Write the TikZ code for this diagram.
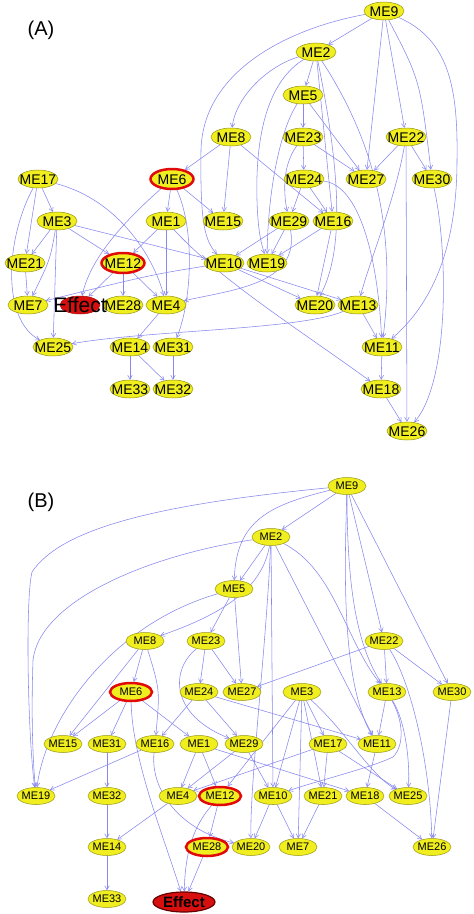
\documentclass[tikz,border=0pt]{standalone}
\usepackage{fontspec}
\setmainfont{Liberation Sans}
\usetikzlibrary{shapes.geometric,arrows.meta}
\definecolor{edgec}{RGB}{135,135,240}
\definecolor{nfill}{RGB}{240,238,30}
\definecolor{nborder}{RGB}{150,150,20}
\definecolor{hired}{RGB}{225,10,10}
\definecolor{effred}{RGB}{215,15,15}
\definecolor{effborder}{RGB}{100,0,0}
\newcommand\ntx[1]{\makebox[0pt]{\raisebox{-0.36em}{#1}}}
\pgfdeclarelayer{bg}
\pgfsetlayers{bg,main}
\begin{document}
\begin{tikzpicture}[x=1pt,y=-1pt,
  nA/.style={ellipse, draw=nborder, line width=0.5pt, fill=nfill, minimum width=40pt, minimum height=18pt, inner sep=0pt, text height=0pt, text depth=0pt, font=\fontsize{14}{15}\selectfont},
  hA/.style={nA, draw=hired, line width=2.5pt, minimum width=43pt, minimum height=20pt},
  effA/.style={ellipse, fill=effred, draw=effred!80!black, line width=0.5pt, minimum width=40pt, minimum height=18pt, inner sep=0pt, text height=0pt, text depth=0pt, font=\fontsize{21}{22}\selectfont},
  nB/.style={ellipse, draw=nborder, line width=0.5pt, fill=nfill, minimum width=38pt, minimum height=17pt, inner sep=0pt, text height=0pt, text depth=0pt, font=\fontsize{11}{12}\selectfont},
  hB/.style={nB, draw=hired, line width=2.5pt, minimum width=42pt, minimum height=18pt},
  effB/.style={ellipse, fill=effred, draw=effborder, line width=1.2pt, minimum width=62pt, minimum height=20pt, inner sep=0pt, text height=0pt, text depth=0pt, font=\bfseries\fontsize{15}{16}\selectfont},
  lbl/.style={font=\fontsize{20}{22}\selectfont, inner sep=0pt},
  conn/.style={draw=edgec, line width=0.55pt, -{Straight Barb[length=4pt,width=4.5pt]}}]
\useasboundingbox (0,0) rectangle (474,914);
\begin{pgfonlayer}{bg}
\fill[white] (0,0) rectangle (474,914);
\end{pgfonlayer}
% ---------------- Panel A ----------------
\node[lbl] (labA) at (41,30) {(A)};
\node[nA] (a9) at (384,11) {\ntx{ME9}};
\node[nA] (a2) at (316,52) {\ntx{ME2}};
\node[nA] (a5) at (303,95) {\ntx{ME5}};
\node[nA] (a8) at (231,137) {\ntx{ME8}};
\node[nA] (a23) at (303,137) {\ntx{ME23}};
\node[nA] (a22) at (406,137) {\ntx{ME22}};
\node[nA] (a17) at (38,179) {\ntx{ME17}};
\node[hA] (a6) at (172,179) {\ntx{ME6}};
\node[nA] (a24) at (304,179) {\ntx{ME24}};
\node[nA] (a27) at (366,179) {\ntx{ME27}};
\node[nA] (a30) at (432,179) {\ntx{ME30}};
\node[nA] (a3) at (57,221) {\ntx{ME3}};
\node[nA] (a1) at (166,221) {\ntx{ME1}};
\node[nA] (a15) at (223,221) {\ntx{ME15}};
\node[nA] (a29) at (289,221) {\ntx{ME29}};
\node[nA] (a16) at (333,221) {\ntx{ME16}};
\node[nA] (a21) at (25,263) {\ntx{ME21}};
\node[hA] (a12) at (123,263) {\ntx{ME12}};
\node[nA] (a10) at (224,263) {\ntx{ME10}};
\node[nA] (a19) at (267,263) {\ntx{ME19}};
\node[nA] (a7) at (28,305) {\ntx{ME7}};
\node[nA] (a28) at (123,305) {\ntx{ME28}};
\node[effA] (eA) at (80,305) {\ntx{Effect}};
\node[nA] (a4) at (166,305) {\ntx{ME4}};
\node[nA] (a20) at (315,305) {\ntx{ME20}};
\node[nA] (a13) at (358,305) {\ntx{ME13}};
\node[nA] (a25) at (53,347) {\ntx{ME25}};
\node[nA] (a14) at (130,347) {\ntx{ME14}};
\node[nA] (a31) at (173,347) {\ntx{ME31}};
\node[nA] (a11) at (382,347) {\ntx{ME11}};
\node[nA] (a33) at (130,389) {\ntx{ME33}};
\node[nA] (a32) at (173,389) {\ntx{ME32}};
\node[nA] (a18) at (381,389) {\ntx{ME18}};
\node[nA] (a26) at (407,431) {\ntx{ME26}};
\begin{pgfonlayer}{bg}
\draw[conn] (a9) -- (a2);
\draw[conn] (a9) -- (a27);
\draw[conn] (a9) -- (a22);
\draw[conn] (a9) .. controls (420,80) .. (a30);
\draw[conn] (a9) .. controls (450,40) and (458,90) .. (457,160) .. controls (457,260) and (425,310) .. (a11);
\draw[conn] (a9) .. controls (290,28) and (203,70) .. (201,150) .. controls (200,225) and (205,240) .. (a10);
\draw[conn] (a2) -- (a5);
\draw[conn] (a2) .. controls (270,65) and (236,95) .. (a8);
\draw[conn] (a2) -- (a16);
\draw[conn] (a2) .. controls (340,170) and (345,250) .. (a20);
\draw[conn] (a2) .. controls (380,150) and (395,240) .. (a11);
\draw[conn] (a2) .. controls (270,80) and (255,130) .. (257,200) .. controls (258,235) and (262,245) .. (a19);
\draw[conn] (a5) -- (a23);
\draw[conn] (a5) -- (a27);
\draw[conn] (a5) .. controls (280,130) and (268,190) .. (a19);
\draw[conn] (a23) -- (a24);
\draw[conn] (a23) -- (a27);
\draw[conn] (a23) .. controls (283,165) and (283,190) .. (a29);
\draw[conn] (a22) -- (a27);
\draw[conn] (a22) -- (a30);
\draw[conn] (a22) .. controls (395,200) and (370,260) .. (a13);
\draw[conn] (a22) -- (a26);
\draw[conn] (a30) .. controls (448,250) and (450,380) .. (a26);
\draw[conn] (a24) -- (a29);
\draw[conn] (a24) -- (a16);
\draw[conn] (a24) .. controls (360,185) and (378,260) .. (a11);
\draw[conn] (a8) -- (a6);
\draw[conn] (a8) -- (a15);
\draw[conn] (a8) -- (a16);
\draw[conn] (a6) -- (a1);
\draw[conn] (a6) -- (a15);
\draw[conn] (a6) .. controls (195,230) and (192,300) .. (a31);
\draw[conn] (a6) .. controls (120,225) and (90,260) .. (eA);
\draw[conn] (a17) -- (a3);
\draw[conn] (a17) -- (a21);
\draw[conn] (a17) .. controls (5,240) and (2,320) .. (a25);
\draw[conn] (a17) .. controls (120,200) and (155,260) .. (a4);
\draw[conn] (a3) -- (a21);
\draw[conn] (a3) .. controls (50,260) .. (a7);
\draw[conn] (a3) -- (a25);
\draw[conn] (a3) -- (a12);
\draw[conn] (a3) -- (a10);
\draw[conn] (a21) -- (a7);
\draw[conn] (a1) -- (a12);
\draw[conn] (a1) -- (a4);
\draw[conn] (a1) .. controls (220,280) and (300,330) .. (a18);
\draw[conn] (a12) -- (eA);
\draw[conn] (a12) -- (a28);
\draw[conn] (a12) -- (a4);
\draw[conn] (a29) -- (a10);
\draw[conn] (a29) -- (a19);
\draw[conn] (a29) .. controls (300,285) and (230,290) .. (a4);
\draw[conn] (a16) -- (a19);
\draw[conn] (a16) -- (a20);
\draw[conn] (a10) .. controls (150,275) .. (a7);
\draw[conn] (a10) -- (a20);
\draw[conn] (a10) -- (a13);
\draw[conn] (a13) -- (a11);
\draw[conn] (a13) .. controls (300,330) and (150,330) .. (a25);
\draw[conn] (a4) -- (a14);
\draw[conn] (a14) -- (a33);
\draw[conn] (a14) -- (a32);
\draw[conn] (a31) -- (a32);
\draw[conn] (a11) -- (a18);
\draw[conn] (a18) -- (a26);
\end{pgfonlayer}
% ---------------- Panel B ----------------
\node[lbl] (labB) at (41,502) {(B)};
\node[nB] (b9) at (347,486) {\ntx{ME9}};
\node[nB] (b2) at (271,537) {\ntx{ME2}};
\node[nB] (b5) at (234,589) {\ntx{ME5}};
\node[nB] (b8) at (145,641) {\ntx{ME8}};
\node[nB] (b23) at (206,641) {\ntx{ME23}};
\node[nB] (b22) at (384,641) {\ntx{ME22}};
\node[hB] (b6) at (131,692) {\ntx{ME6}};
\node[nB] (b24) at (199,692) {\ntx{ME24}};
\node[nB] (b27) at (242,692) {\ntx{ME27}};
\node[nB] (b3) at (302,692) {\ntx{ME3}};
\node[nB] (b13) at (387,692) {\ntx{ME13}};
\node[nB] (b30) at (452,692) {\ntx{ME30}};
\node[nB] (b15) at (63,744) {\ntx{ME15}};
\node[nB] (b31) at (107,744) {\ntx{ME31}};
\node[nB] (b16) at (155,744) {\ntx{ME16}};
\node[nB] (b1) at (199,744) {\ntx{ME1}};
\node[nB] (b29) at (244,744) {\ntx{ME29}};
\node[nB] (b17) at (328,744) {\ntx{ME17}};
\node[nB] (b11) at (377,744) {\ntx{ME11}};
\node[nB] (b19) at (36,796) {\ntx{ME19}};
\node[nB] (b32) at (107,796) {\ntx{ME32}};
\node[nB] (b4) at (178,796) {\ntx{ME4}};
\node[hB] (b12) at (220,796) {\ntx{ME12}};
\node[nB] (b10) at (273,796) {\ntx{ME10}};
\node[nB] (b21) at (323,796) {\ntx{ME21}};
\node[nB] (b18) at (365,796) {\ntx{ME18}};
\node[nB] (b25) at (408,796) {\ntx{ME25}};
\node[nB] (b14) at (107,847) {\ntx{ME14}};
\node[hB] (b28) at (207,847) {\ntx{ME28}};
\node[nB] (b20) at (251,847) {\ntx{ME20}};
\node[nB] (b7) at (298,847) {\ntx{ME7}};
\node[nB] (b26) at (432,847) {\ntx{ME26}};
\node[nB] (b33) at (107,899) {\ntx{ME33}};
\node[effB] (eB) at (184,902) {\ntx{Effect}};
\begin{pgfonlayer}{bg}
\draw[conn] (b9) -- (b2);
\draw[conn] (b9) .. controls (150,505) and (60,530) .. (32,572) .. controls (25,600) and (28,740) .. (b19);
\draw[conn] (b9) .. controls (270,505) and (236,520) .. (b5);
\draw[conn] (b9) .. controls (347,600) and (360,650) .. (b13);
\draw[conn] (b9) .. controls (345,560) and (340,680) .. (b11);
\draw[conn] (b9) -- (b22);
\draw[conn] (b9) -- (b30);
\draw[conn] (b2) -- (b5);
\draw[conn] (b2) .. controls (262,590) and (220,615) .. (b8);
\draw[conn] (b2) .. controls (150,555) and (40,600) .. (33,660) .. controls (31,720) and (33,760) .. (b19);
\draw[conn] (b2) -- (b10);
\draw[conn] (b2) .. controls (266,650) and (250,780) .. (b20);
\draw[conn] (b2) -- (b11);
\draw[conn] (b2) .. controls (335,570) and (345,640) .. (b13);
\draw[conn] (b5) -- (b23);
\draw[conn] (b5) -- (b27);
\draw[conn] (b5) .. controls (110,625) and (45,720) .. (b19);
\draw[conn] (b8) -- (b6);
\draw[conn] (b8) -- (b15);
\draw[conn] (b8) .. controls (160,690) .. (b16);
\draw[conn] (b23) -- (b24);
\draw[conn] (b23) -- (b27);
\draw[conn] (b23) .. controls (170,670) and (170,715) .. (b29);
\draw[conn] (b22) -- (b27);
\draw[conn] (b22) -- (b13);
\draw[conn] (b22) -- (b30);
\draw[conn] (b22) .. controls (410,680) and (430,760) .. (b26);
\draw[conn] (b6) -- (b15);
\draw[conn] (b6) -- (b31);
\draw[conn] (b6) -- (b1);
\draw[conn] (b6) .. controls (132,760) and (165,840) .. (eB);
\draw[conn] (b24) -- (b16);
\draw[conn] (b24) -- (b29);
\draw[conn] (b24) -- (b11);
\draw[conn] (b3) -- (b12);
\draw[conn] (b3) -- (b10);
\draw[conn] (b3) -- (b7);
\draw[conn] (b3) -- (b21);
\draw[conn] (b3) -- (b17);
\draw[conn] (b3) .. controls (345,730) and (370,775) .. (b25);
\draw[conn] (b13) -- (b11);
\draw[conn] (b13) .. controls (405,720) and (410,760) .. (b25);
\draw[conn] (b13) .. controls (403,720) and (405,745) .. (393,757) .. controls (370,768) and (320,780) .. (b10);
\draw[conn] (b30) -- (b26);
\draw[conn] (b16) -- (b19);
\draw[conn] (b16) .. controls (150,790) and (180,830) .. (b20);
\draw[conn] (b1) -- (b4);
\draw[conn] (b1) -- (b12);
\draw[conn] (b1) -- (b18);
\draw[conn] (b29) -- (b4);
\draw[conn] (b29) -- (b10);
\draw[conn] (b17) -- (b21);
\draw[conn] (b17) -- (b25);
\draw[conn] (b17) -- (b4);
\draw[conn] (b11) -- (b18);
\draw[conn] (b31) -- (b32);
\draw[conn] (b32) -- (b14);
\draw[conn] (b14) -- (b33);
\draw[conn] (b4) -- (b14);
\draw[conn] (b12) -- (b28);
\draw[conn] (b12) .. controls (190,830) and (185,860) .. (eB);
\draw[conn] (b28) -- (eB);
\draw[conn] (b10) -- (b20);
\draw[conn] (b10) -- (b7);
\draw[conn] (b21) -- (b7);
\draw[conn] (b18) -- (b26);
\end{pgfonlayer}
\end{tikzpicture}
\end{document}
